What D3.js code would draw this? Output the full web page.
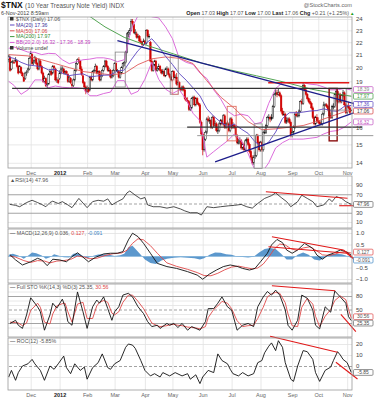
<!DOCTYPE html>
<html><head><meta charset="utf-8">
<script src="https://cdn.jsdelivr.net/npm/d3@7"></script>
<style>body{margin:0;background:#fff}svg{display:block;font-family:"Liberation Sans",Arial,sans-serif}</style>
</head><body><svg id="c" width="374" height="400"></svg>
<script>
// ---------- DATA ----------
const monthLabels=["Dec","2012","Feb","Mar","Apr","May","Jun","Jul","Aug","Sep","Oct","Nov"];
const monthIdx=[16,37,57,77,99,119,141,162,183,206,225,246];
const priceTicks=[14,15,16,17,18,19,20,21,22,23,24];
const priceTickLabels=[14,15,16,19,20,21,22,23,24];
const opens=[20.6,20.8,19.9,20.4,20.4,20.5,20.5,20.1,19.7,20.0,19.6,19.3,19.2,19.6,19.7,19.9,20.8,21.0,20.3,20.5,20.7,20.3,19.9,20.5,20.1,19.6,19.0,19.2,18.7,18.8,19.5,19.7,19.6,20.1,19.9,19.1,19.1,19.2,19.6,19.9,19.9,19.6,19.7,19.5,19.0,19.2,18.8,18.7,19.1,19.8,20.3,20.6,20.5,19.9,19.4,18.9,18.6,18.3,18.5,18.4,19.3,19.1,19.7,19.8,20.1,19.6,19.7,19.1,19.4,19.8,20.1,20.5,20.1,19.8,19.8,19.3,19.4,19.8,20.3,19.8,19.7,19.3,19.6,20.0,20.3,20.4,21.2,22.7,22.8,23.0,23.8,23.5,22.8,22.7,22.4,22.5,22.1,22.0,21.8,22.1,21.9,23.0,22.5,22.0,20.5,19.8,20.2,20.5,19.8,19.9,20.1,19.8,19.6,19.7,19.4,19.9,19.9,19.5,19.3,19.1,19.7,19.3,19.3,18.8,18.9,18.5,18.4,18.6,18.4,17.8,17.7,17.6,17.1,17.2,17.8,17.9,17.4,17.8,17.5,17.4,16.3,15.6,14.7,15.3,15.7,16.5,16.4,16.4,16.0,16.6,16.1,16.2,15.8,15.8,16.2,16.4,16.2,16.7,16.0,16.2,16.2,15.8,16.5,16.0,16.1,16.0,15.5,15.1,15.1,15.2,14.8,15.0,14.7,15.2,15.3,15.0,14.6,14.3,14.0,14.3,14.4,15.5,15.1,14.7,15.1,14.7,15.7,15.7,16.1,16.6,16.6,16.5,16.6,17.3,18.1,18.2,18.1,18.2,18.0,17.0,16.8,16.8,16.3,16.4,16.5,16.3,15.5,15.7,16.0,16.8,16.7,16.7,17.0,17.6,17.5,18.7,18.4,18.1,17.8,17.6,17.5,17.2,16.6,16.2,16.6,16.4,16.3,16.2,16.2,16.8,17.4,17.4,17.3,17.1,16.7,16.6,17.3,17.3,18.1,18.3,17.6,18.1,17.6,18.0,18.2,17.4,16.9,17.3,17.2,17.03];
const highs=[21.0,20.9,20.5,20.6,20.6,20.8,20.6,20.2,20.2,20.1,19.7,19.4,19.7,19.8,20.0,20.8,21.3,21.1,20.6,20.9,20.8,20.4,20.7,20.6,20.2,19.7,19.4,19.3,18.9,19.6,19.9,19.8,20.2,20.2,20.0,19.3,19.2,19.8,20.1,20.1,20.0,19.8,19.8,19.6,19.4,19.3,18.9,19.2,19.9,20.4,20.7,20.8,20.6,20.1,19.5,19.0,18.7,18.7,18.6,19.4,19.4,19.8,19.9,20.3,20.2,19.8,19.8,19.5,19.9,20.2,20.6,20.6,20.2,20.0,19.9,19.5,19.9,20.4,20.4,19.9,19.8,19.7,20.1,20.4,20.5,21.3,22.8,23.0,23.2,24.0,24.0,23.6,23.1,22.9,22.7,22.6,22.3,22.1,22.3,22.2,23.1,23.1,22.7,22.1,20.7,20.3,20.6,20.6,20.1,20.3,20.2,19.9,19.9,19.8,20.0,20.1,20.0,19.6,19.4,19.8,19.8,19.5,19.6,19.1,19.0,18.6,18.7,18.7,18.5,17.9,17.9,17.7,17.4,17.9,18.0,18.0,17.9,17.9,17.6,17.5,16.4,15.7,15.4,15.8,16.6,16.7,16.6,16.5,16.7,16.7,16.4,16.3,16.0,16.3,16.5,16.5,16.8,16.8,16.3,16.4,16.3,16.6,16.6,16.3,16.2,16.1,15.6,15.3,15.4,15.3,15.1,15.1,15.3,15.4,15.4,15.1,14.7,14.4,14.4,14.6,15.6,15.6,15.2,15.2,15.2,15.8,15.9,16.2,16.7,16.8,16.7,16.8,17.4,18.2,18.5,18.4,18.5,18.3,18.1,17.2,17.0,16.9,16.6,16.6,16.6,16.4,15.8,16.1,16.9,17.0,16.9,17.1,17.7,17.8,18.9,18.8,18.5,18.2,17.9,17.8,17.6,17.3,16.7,16.7,16.8,16.6,16.4,16.4,16.9,17.6,17.5,17.5,17.4,17.2,16.9,17.4,17.5,18.2,18.5,18.4,18.2,18.2,18.1,18.4,18.3,17.5,17.4,17.6,17.3,17.07];
const lows=[20.4,19.7,19.8,20.3,20.3,20.4,20.0,19.5,19.6,19.5,19.3,19.0,19.1,19.4,19.6,19.8,20.7,20.2,20.2,20.4,20.2,19.8,19.8,20.0,19.5,18.9,18.9,18.6,18.5,18.8,19.4,19.4,19.5,19.9,19.0,18.9,18.8,19.1,19.5,19.7,19.5,19.5,19.5,18.9,18.9,18.8,18.5,18.6,19.0,19.7,20.2,20.3,19.8,19.4,18.8,18.5,18.1,18.2,18.2,18.3,19.0,19.0,19.6,19.7,19.5,19.5,19.0,19.0,19.3,19.7,20.0,20.0,19.7,19.7,19.2,19.2,19.3,19.7,19.7,19.6,19.2,19.2,19.5,19.9,20.1,20.3,21.1,22.4,22.6,22.9,23.4,22.7,22.6,22.3,22.3,22.0,21.9,21.7,21.7,21.8,21.8,22.4,22.3,20.4,19.7,19.7,20.1,19.7,19.7,19.8,19.7,19.5,19.5,19.3,19.3,19.8,19.4,19.2,19.0,19.0,19.2,19.2,18.7,18.7,18.4,18.3,18.3,18.3,17.7,17.6,17.5,17.0,17.0,17.1,17.7,17.3,17.3,17.4,17.3,16.2,15.5,14.4,14.6,15.2,15.6,16.3,16.2,15.9,15.9,16.0,16.0,15.7,15.6,15.7,16.1,16.1,16.1,15.9,15.9,16.1,15.7,15.7,15.9,15.9,15.9,15.4,15.0,15.0,15.0,14.7,14.7,14.6,14.6,15.1,14.9,14.5,14.2,13.9,13.9,14.2,14.3,15.0,14.6,14.6,14.6,14.6,15.6,15.6,16.0,16.4,16.3,16.4,16.5,17.2,18.0,17.9,18.0,17.9,16.9,16.7,16.7,16.2,16.2,16.3,16.2,15.4,15.4,15.6,15.9,16.6,16.6,16.6,16.9,17.4,17.4,18.3,18.0,17.7,17.5,17.4,17.1,16.5,16.1,16.1,16.3,16.2,16.1,16.1,16.1,16.7,17.3,17.2,17.0,16.6,16.5,16.5,17.1,17.2,18.0,17.5,17.5,17.5,17.5,17.9,17.3,16.8,16.8,17.1,16.8,17.00];
const closes=[20.9,19.8,20.4,20.5,20.4,20.6,20.1,19.6,20.1,19.6,19.4,19.0,19.6,19.6,19.9,20.7,21.1,20.3,20.4,20.8,20.3,19.9,20.6,20.1,19.6,19.0,19.2,18.7,18.8,19.5,19.7,19.5,20.1,20.0,19.1,19.1,18.9,19.6,19.9,19.9,19.6,19.7,19.6,19.0,19.3,18.9,18.7,19.1,19.8,20.3,20.6,20.5,19.9,19.5,18.9,18.6,18.3,18.5,18.3,19.3,19.1,19.7,19.8,20.1,19.6,19.7,19.1,19.4,19.8,20.1,20.5,20.1,19.8,19.8,19.3,19.4,19.8,20.3,19.8,19.8,19.3,19.6,20.0,20.3,20.4,21.2,22.7,22.8,23.0,23.8,23.6,22.8,22.8,22.4,22.5,22.1,22.0,21.8,22.1,21.9,23.0,22.5,22.5,20.5,19.8,20.2,20.5,19.8,19.9,20.1,19.8,19.6,19.7,19.4,19.9,19.9,19.5,19.3,19.1,19.7,19.3,19.3,18.8,18.9,18.5,18.4,18.6,18.4,17.8,17.7,17.6,17.1,17.2,17.8,17.9,17.4,17.8,17.5,17.4,16.3,15.6,14.7,15.3,15.7,16.5,16.4,16.4,16.0,16.6,16.1,16.2,15.8,15.8,16.2,16.4,16.2,16.7,16.0,16.2,16.2,15.8,16.5,16.0,16.1,16.0,15.5,15.1,15.1,15.2,14.8,15.0,14.7,15.2,15.3,15.0,14.6,14.3,14.0,14.3,14.4,15.5,15.1,14.7,15.1,14.7,15.7,15.7,16.1,16.6,16.6,16.5,16.6,17.3,18.1,18.2,18.1,18.2,18.0,17.0,16.8,16.8,16.3,16.4,16.5,16.3,15.5,15.7,16.0,16.8,16.7,16.7,17.0,17.6,17.5,18.7,18.4,18.1,17.8,17.6,17.5,17.2,16.6,16.2,16.6,16.4,16.3,16.2,16.2,16.8,17.4,17.4,17.3,17.1,16.7,16.6,17.3,17.3,18.1,18.3,17.6,18.1,17.6,18.0,18.2,17.4,16.9,17.3,17.2,16.9,17.06];
// overlays: [dayIndex, value]
const ma20=[[0,20.8],[4,20.7],[9,20.4],[14,20.2],[19,20.14],[24,20.07],[29,19.83],[34,19.87],[39,19.58],[44,19.41],[49,19.49],[54,19.54],[59,19.32],[64,19.38],[69,19.44],[74,19.45],[79,19.75],[84,19.82],[89,20.59],[94,21.32],[99,21.86],[104,22.29],[109,21.64],[114,20.86],[119,20.24],[124,19.56],[129,19.08],[134,18.54],[139,17.99],[144,17.14],[149,16.67],[154,16.31],[159,16.05],[164,16.18],[169,15.89],[174,15.63],[179,15.15],[184,14.88],[189,15.13],[194,15.71],[199,16.53],[204,16.89],[209,16.89],[214,16.93],[219,17.0],[224,17.03],[229,17.14],[234,17.02],[239,16.98],[244,17.3],[249,17.36]];
const ma50=[[0,21.0],[14,20.9],[24,20.6],[34,20.3],[44,20.0],[54,19.71],[64,19.59],[74,19.47],[84,19.57],[94,20.23],[104,20.67],[114,20.82],[124,20.71],[134,20.31],[144,19.04],[154,17.92],[164,17.17],[174,16.34],[184,15.85],[194,15.9],[204,16.0],[214,16.1],[224,16.35],[234,16.65],[244,16.95],[249,17.06]];
const ma200=[[50,24.9],[57,24.4],[70,23.3],[84,22.4],[100,21.75],[120,21.05],[140,20.35],[160,19.85],[180,19.4],[200,18.95],[220,18.45],[240,18.1],[249,17.97]];
const bbUpper=[[0,21.5],[4,21.6],[9,21.4],[14,21.2],[19,21.18],[24,21.0],[29,21.1],[34,21.07],[39,20.6],[44,20.3],[49,20.45],[54,20.6],[59,20.65],[64,20.75],[69,20.75],[74,20.65],[79,20.45],[84,20.6],[89,23.1],[94,24.3],[99,24.6],[104,24.2],[109,24.1],[114,23.3],[119,22.3],[124,20.7],[129,20.4],[134,20.25],[139,19.6],[144,19.2],[149,18.4],[154,17.8],[159,17.0],[164,16.7],[169,16.8],[174,16.7],[179,16.2],[184,16.3],[189,17.5],[194,18.5],[199,18.9],[204,18.9],[209,18.9],[214,18.9],[219,18.8],[224,18.75],[229,18.6],[234,18.4],[239,18.4],[244,18.5],[249,18.39]];
const bbLower=[[0,19.0],[4,18.7],[9,18.1],[14,18.4],[19,19.1],[24,19.1],[29,18.55],[34,18.67],[39,18.58],[44,18.55],[49,18.55],[54,18.5],[59,18.0],[64,18.0],[69,18.15],[74,18.25],[79,19.05],[84,19.05],[89,18.1],[94,18.3],[99,19.15],[104,20.4],[109,19.15],[114,18.45],[119,18.15],[124,18.4],[129,17.75],[134,16.85],[139,16.4],[144,14.3],[149,14.6],[154,14.9],[159,15.2],[164,15.6],[169,15.2],[174,14.5],[179,13.6],[184,13.5],[189,14.0],[194,14.8],[199,15.1],[204,15.3],[209,15.3],[214,15.3],[219,15.35],[224,15.4],[229,15.6],[234,15.75],[239,15.8],[244,16.0],[249,16.32]];
// indicators: [dayIndex, value]
const rsi=[[1,48],[5,46],[8,43],[13,52],[17,57],[21,52],[24,48],[27,43],[30,52],[32,55],[36,50],[39,54],[43,47],[46,41],[51,61],[54,51],[57,41],[61,54],[65,57],[69,55],[72,60],[75,47],[79,54],[83,60],[86,73],[88,77],[92,68],[96,60],[99,63],[101,47],[105,43],[110,43],[115,40],[120,43],[125,38],[128,34],[132,30],[137,30],[140,25],[144,43],[149,41],[154,43],[160,45],[164,46],[169,48],[173,43],[177,40],[181,50],[186,61],[191,67],[194,73],[198,63],[202,54],[205,43],[210,54],[213,68],[217,61],[221,54],[224,43],[229,47],[233,60],[235,54],[238,65],[242,61],[245,54],[249,47.96]];
const macd=[[1,0.05],[5,-0.17],[10,-0.39],[16,-0.25],[21,-0.1],[24,-0.17],[28,-0.42],[32,-0.14],[37,-0.17],[42,-0.25],[46,-0.03],[50,0.14],[53,0.0],[58,-0.25],[63,-0.06],[69,0.09],[74,0.12],[79,0.12],[83,0.19],[87,0.7],[90,0.99],[94,0.84],[98,0.55],[103,0.12],[108,-0.32],[115,-0.46],[122,-0.54],[130,-0.68],[137,-0.83],[141,-1.01],[146,-0.78],[151,-0.61],[156,-0.46],[161,-0.39],[166,-0.45],[170,-0.54],[175,-0.61],[179,-0.54],[183,-0.25],[188,0.12],[191,0.48],[195,0.72],[199,0.58],[202,0.26],[206,0.12],[210,0.26],[215,0.55],[221,0.33],[224,0.04],[228,-0.14],[232,0.04],[236,0.12],[241,0.26],[245,0.19],[249,0.036]];
const macdSignal=[[1,0.0],[5,-0.05],[11,-0.2],[16,-0.28],[21,-0.2],[26,-0.22],[30,-0.3],[35,-0.22],[40,-0.2],[45,-0.15],[50,0.0],[55,-0.05],[59,-0.12],[64,-0.1],[70,0.02],[76,0.1],[82,0.13],[86,0.25],[90,0.55],[94,0.75],[98,0.7],[103,0.45],[108,0.12],[115,-0.3],[122,-0.45],[130,-0.58],[137,-0.72],[142,-0.85],[147,-0.86],[152,-0.75],[157,-0.6],[162,-0.48],[167,-0.44],[172,-0.5],[177,-0.56],[181,-0.52],[185,-0.35],[189,-0.05],[193,0.3],[197,0.52],[201,0.48],[205,0.32],[209,0.25],[214,0.35],[219,0.4],[224,0.22],[228,0.05],[233,0.02],[237,0.08],[241,0.16],[245,0.18],[249,0.127]];
const macdHist=[[0,0.05],[3,0.1],[7,0.02],[11,-0.12],[15,0.05],[17,0.15],[20,0.12],[24,0.02],[27,-0.12],[30,-0.05],[33,0.08],[36,0.02],[40,-0.05],[44,-0.06],[47,0.1],[50,0.12],[54,0.0],[57,-0.1],[61,0.0],[65,0.06],[69,0.08],[73,0.05],[77,0.0],[81,0.03],[84,0.1],[87,0.38],[90,0.45],[93,0.25],[96,0.05],[99,-0.15],[103,-0.3],[107,-0.35],[111,-0.2],[115,-0.12],[120,-0.08],[125,-0.05],[130,-0.08],[135,-0.1],[139,-0.15],[142,-0.1],[146,0.05],[150,0.15],[154,0.14],[158,0.08],[162,0.05],[166,-0.02],[170,-0.04],[174,-0.06],[178,-0.03],[182,0.15],[186,0.3],[190,0.35],[194,0.3],[198,0.1],[202,-0.15],[206,-0.15],[210,0.05],[214,0.15],[218,0.05],[222,-0.15],[226,-0.2],[230,-0.05],[234,0.08],[238,0.1],[242,0.08],[245,0.02],[249,-0.09]];
const stoK=[[1,19],[5,26],[7,15],[10,8],[13,38],[16,76],[21,56],[23,45],[26,4],[30,38],[32,64],[35,53],[39,73],[41,56],[43,23],[46,15],[50,89],[54,45],[57,8],[61,56],[64,71],[66,64],[69,78],[72,52],[75,26],[77,45],[80,56],[83,82],[87,86],[90,78],[94,56],[98,41],[101,23],[104,12],[108,15],[110,8],[115,19],[117,15],[120,19],[123,10],[126,19],[130,4],[133,12],[136,8],[139,4],[143,23],[145,52],[149,52],[152,64],[155,78],[159,56],[162,49],[166,4],[170,15],[174,19],[178,12],[181,56],[185,78],[188,90],[191,82],[194,93],[197,82],[201,49],[203,15],[206,4],[210,26],[213,82],[217,75],[221,49],[223,15],[226,7],[230,56],[234,44],[237,91],[241,78],[245,64],[247,34],[249,25.35]];
const stoD=[[1,22],[5,21],[7,20],[10,14],[13,20],[16,48],[21,64],[23,55],[26,22],[30,18],[32,40],[35,58],[39,63],[41,64],[43,45],[46,22],[50,62],[54,66],[57,30],[61,30],[64,58],[66,66],[69,70],[72,66],[75,42],[77,38],[80,45],[83,66],[87,82],[90,82],[94,68],[98,52],[101,36],[104,20],[108,14],[110,12],[115,14],[117,16],[120,17],[123,15],[126,14],[130,11],[133,10],[136,9],[139,7],[143,12],[145,32],[149,50],[152,58],[155,68],[159,64],[162,52],[166,25],[170,12],[174,14],[178,15],[181,30],[185,55],[188,78],[191,85],[194,88],[197,86],[201,65],[203,40],[206,14],[210,12],[213,55],[217,75],[221,62],[223,35],[226,12],[230,35],[234,50],[237,70],[241,80],[245,72],[247,50],[249,30.56]];
const roc=[[0,-10],[2,-4],[5,-13],[7,-6],[10,0],[14,2],[17,6],[19,2],[23,-4],[26,-13],[30,0],[33,-3],[36,2],[40,9],[42,-1.5],[45,-7],[48,2],[52,-4],[55,-1],[57,-12],[61,-1.5],[65,3],[68,11],[72,-1.5],[74,-3],[77,2],[81,5],[85,17],[87,20],[90,19],[92,16],[96,5],[99,-4],[103,-9],[106,-7],[110,-10],[112,-6],[117,-9],[121,-6],[126,-9],[130,-7],[132,-12],[136,-8],[139,-16],[141,-10],[145,-4],[149,-6],[152,11],[155,5],[159,2],[161,-3],[163,-7],[167,-9],[170,-6],[174,-9],[178,-7],[181,3],[184,5],[186,12],[189,18],[191,21],[194,14],[196,23],[199,17],[201,3],[205,-12],[207,-14],[210,0],[214,14],[217,13],[221,6],[223,-6],[226,-14],[230,-4],[234,-1],[236,5],[239,13],[241,10],[243,6],[246,3],[249,-5.85]];
// chartist annotations (dayIndex, value)
const priceTrend=[[[79,22.14],[260,17.26]],[[150,14.05],[260,17.17]]];
const priceLevels=[[18.5,2.5,249.5,"#333",1.2],[18.9,188.6,247.5,"#e01818",1.5],[16.0,129.7,257,"#333",1.2],[15.5,137,265,"#999",1]];
const priceBoxes=[[77.4,84.7,21.2,18.6,"#888",0.8],[117.4,123.2,20.9,18.1,"#888",0.8],[118.8,123.2,19.1,18.1,"#e07878",0.8],[158.8,165.3,17.3,15.2,"#e07060",0.9],[178.4,184.2,16.2,13.7,"#888",0.8],[232.9,245.3,18.5,17.06,"#888",0.8],[232.9,238.7,18.5,15.2,"#8b1010",1.4]];
const rsiTrend=[[[186.9,75.5],[246.2,61.2]],[[240.2,45.2],[252.5,45.2]]];
const macdTrend=[[[191.3,0.84],[243.3,0.26]],[[188.8,0.40],[245.8,0.12]],[[243.3,0.26],[253,-0.25]],[[245.8,0.12],[253,-0.2]]];
const stoTrend=[[[191.3,102.9],[237.3,91.8]],[[241.4,39.3],[252.3,0.7]]];
const rocTrend=[[[190,27],[238.9,12.5]],[[237.8,3.4],[253.5,-11.8]]];

// ---------- LAYOUT ----------
const svg=d3.select("#c");
const X0=8,X1=352;
const x=d3.scaleLinear().domain([-0.5,249.5]).range([X0,X1]);
const P={main:[17,168],rsi:[176,228],macd:[229,283],sto:[284,337],roc:[338,390]};
const yP=d3.scaleLog().domain([13.73,24.18]).range([168,17]);
const yR=d3.scaleLinear().domain([0,100]).range([226.6,180.4]);
const yM=d3.scaleLinear().domain([-1,1]).range([279,233]);
const yS=d3.scaleLinear().domain([0,100]).range([332,287]);
const yC=d3.scaleLinear().domain([-10,20]).range([377,344]);
const defs=svg.append("defs");
Object.entries(P).forEach(([k,[t,b]])=>{
  defs.append("clipPath").attr("id","cl_"+k).append("rect").attr("x",X0).attr("y",t).attr("width",X1-X0).attr("height",b-t);
});
svg.append("rect").attr("width",374).attr("height",400).attr("fill","#fff");

function grid(key,y,vals){
  const [t,b]=P[key];
  const gv=svg.append("g").attr("transform",`translate(0,${b})`)
    .call(d3.axisBottom(x).tickValues(monthIdx).tickSize(-(b-t)).tickFormat(""));
  gv.select(".domain").remove();
  gv.selectAll("line").attr("stroke","#e2e2e2").attr("stroke-width",0.8);
  if(vals){
    const gh=svg.append("g").attr("transform",`translate(${X1},0)`)
      .call(d3.axisRight(y).tickValues(vals).tickSize(-(X1-X0)).tickFormat(""));
    gh.select(".domain").remove();
    gh.selectAll("line").attr("stroke","#e2e2e2").attr("stroke-width",0.8);
  }
}
function refLines(key,y,vals,color,dash){
  const g=svg.append("g").attr("transform",`translate(${X1},0)`)
    .call(d3.axisRight(y).tickValues(vals).tickSize(-(X1-X0)).tickFormat(""));
  g.select(".domain").remove();
  g.selectAll("line").attr("stroke",color).attr("stroke-width",0.9).attr("stroke-dasharray",dash||null);
}
function labels(y,vals,fmt){
  const g=svg.append("g").attr("transform",`translate(${X1},0)`)
    .call(d3.axisRight(y).tickValues(vals).tickSize(0).tickPadding(4).tickFormat(fmt));
  g.select(".domain").remove();
  g.selectAll("text").attr("font-size",6).attr("fill","#444").attr("font-family",'"Liberation Sans",Arial,sans-serif');
}
function frame(key){
  const [t,b]=P[key];
  svg.append("rect").attr("x",X0).attr("y",t).attr("width",X1-X0).attr("height",b-t)
    .attr("fill","none").attr("stroke","#9a9a9a").attr("stroke-width",0.8);
}
function months(yy){
  const g=svg.append("g").attr("transform",`translate(0,${yy})`)
    .call(d3.axisBottom(x).tickValues(monthIdx).tickSize(0).tickPadding(3).tickFormat((d,k)=>monthLabels[k]));
  g.select(".domain").remove();
  g.selectAll("text").attr("font-size",5.5)
    .attr("font-weight",(d,k)=>monthLabels[k]==="2012"?"bold":null)
    .attr("fill",(d,k)=>monthLabels[k]==="2012"?"#222":"#666");
}
function series(key,y,data,color,w){
  svg.append("path").attr("clip-path",`url(#cl_${key})`).datum(data)
    .attr("d",d3.line().x(d=>x(d[0])).y(d=>y(d[1])))
    .attr("fill","none").attr("stroke",color).attr("stroke-width",w||0.9).attr("stroke-linejoin","round");
}
function trend(y,segs,color,w){
  segs.forEach(s=>svg.append("path").datum(s)
    .attr("d",d3.line().x(d=>x(d[0])).y(d=>y(d[1])))
    .attr("stroke",color).attr("stroke-width",w).attr("fill","none"));
}
function vbox(yy,txt,color,txtColor){
  svg.append("rect").attr("x",353.5).attr("y",yy-2.9).attr("width",19.5).attr("height",5.8)
    .attr("fill","#fff").attr("stroke",color).attr("stroke-width",0.7).attr("rx",1);
  svg.append("text").attr("x",363.2).attr("y",yy+1.7).attr("text-anchor","middle")
    .attr("font-size",4.9).attr("fill",txtColor||color).text(txt);
}
function txt(xx,yy,parts,size){
  const t=svg.append("text").attr("x",xx).attr("y",yy).attr("font-size",size||5.5);
  parts.forEach(p=>t.append("tspan").text(p[0]).attr("fill",p[1]||"#444").attr("font-weight",p[2]||null));
  return t;
}

// ---------- HEADER ----------
txt(1,8,[["$TNX ","#111","bold"]],8.5).append("tspan").text("(10 Year Treasury Note Yield) INDX").attr("font-size",6.3).attr("fill","#555").attr("font-weight","normal");
svg.append("text").attr("x",352).attr("y",7).attr("text-anchor","end").attr("font-size",5.6).attr("fill","#666").text("@StockCharts.com");
txt(1,15,[["6-Nov-2012 8:59am","#444"]],5.4);
const hdr=svg.append("text").attr("x",349).attr("y",15).attr("text-anchor","end").attr("font-size",5.4);
[["Open ","#222","bold"],["17.03  ","#555"],["High ","#222","bold"],["17.07  ","#555"],["Low ","#222","bold"],["17.00  ","#555"],["Last ","#222","bold"],["17.06  ","#555"],["Chg ","#222","bold"],["+0.21 (+1.25%)","#555"]]
  .forEach(p=>hdr.append("tspan").text(p[0]).attr("fill",p[1]).attr("font-weight",p[2]||null));
svg.append("text").attr("x",350).attr("y",15).attr("font-size",4.5).attr("fill","#1a9a1a").text("▲");

// ---------- MAIN PANEL ----------
grid("main",yP,priceTicks);
const gC=svg.append("g").attr("clip-path","url(#cl_main)");
const idx=d3.range(closes.length);
const col=i=>closes[i]<(i>0?closes[i-1]:opens[i])?"#d00000":"#111";
gC.selectAll("line.w").data(idx).join("line").attr("class","w")
  .attr("x1",i=>x(i)).attr("x2",i=>x(i)).attr("y1",i=>yP(highs[i])).attr("y2",i=>yP(lows[i]))
  .attr("stroke",col).attr("stroke-width",0.7);
const cw=1.5;
gC.selectAll("rect.b").data(idx).join("rect").attr("class","b")
  .attr("x",i=>x(i)-cw/2).attr("width",cw)
  .attr("y",i=>yP(Math.max(opens[i],closes[i])))
  .attr("height",i=>Math.max(0.7,yP(Math.min(opens[i],closes[i]))-yP(Math.max(opens[i],closes[i]))))
  .attr("fill",i=>closes[i]<opens[i]?col(i):"#fff").attr("stroke",col).attr("stroke-width",0.5);
series("main",yP,bbUpper,"#d75cd7",0.9);
series("main",yP,bbLower,"#d75cd7",0.9);
series("main",yP,ma200,"#3f9a3f",0.9);
series("main",yP,ma50,"#e05a5a",0.9);
series("main",yP,ma20,"#5a45c0",0.9);
priceBoxes.forEach(b=>svg.append("rect").attr("x",x(b[0])).attr("y",yP(b[2])).attr("width",x(b[1])-x(b[0]))
  .attr("height",yP(b[3])-yP(b[2])).attr("fill","none").attr("stroke",b[4]).attr("stroke-width",b[5]));
priceLevels.forEach(l=>svg.append("line").attr("x1",x(l[1])).attr("x2",x(l[2])).attr("y1",yP(l[0])).attr("y2",yP(l[0]))
  .attr("stroke",l[3]).attr("stroke-width",l[4]));
trend(yP,priceTrend,"#1c1c8a",1.3);
frame("main");
labels(yP,priceTickLabels,d3.format("d"));
const lg=[["$TNX (Daily) 17.06","#555"],["MA(20) 17.36","#3b2f9a"],["MA(50) 17.06","#d43c3c"],["MA(200) 17.97","#2f8a2f"],["BB(20,2.0) 16.32 - 17.36 - 18.39","#c040c0"],["Volume undef","#444"]];
const lgc=["#333","#5a45c0","#e05a5a","#3f9a3f","#d75cd7","#333"];
lg.forEach((l,k)=>{
  const yy=21+k*5.8;
  if(k===0||k===5){svg.append("rect").attr("x",10).attr("y",yy-4).attr("width",3.5).attr("height",3.5).attr("fill","#333");}
  else svg.append("line").attr("x1",10).attr("x2",14.5).attr("y1",yy-1.8).attr("y2",yy-1.8).attr("stroke",lgc[k]).attr("stroke-width",1);
  txt(16,yy,[[l[0],l[1]]],5.2);
});
vbox(yP(16.32),"16.32","#c050c0");
vbox(yP(17.06)+1,"17.06","#d43c3c","#333");
vbox(yP(17.36)-1,"17.36","#5a45c0");
vbox(yP(17.97),"17.97","#3f9a3f");
vbox(yP(18.39)-0.5,"18.39","#c050c0","#888");
months(168);

// ---------- RSI ----------
grid("rsi",yR,[10,90]);
refLines("rsi",yR,[30,70],"#999");
refLines("rsi",yR,[50],"#999","3,2");
series("rsi",yR,rsi,"#222",0.8);
trend(yR,rsiTrend,"#e01818",1.1);
frame("rsi");
labels(yR,[10,30,70,90],d3.format("d"));
txt(10,182,[["▲","#555"],["RSI(14) 47.96","#555"]],5.3);
vbox(yR(47.96),"47.96","#666","#444");

// ---------- MACD ----------
grid("macd",yM,[-1,-0.5,0.5,1]);
svg.append("path").attr("clip-path","url(#cl_macd)").datum(macdHist)
  .attr("d",d3.area().x(d=>x(d[0])).y0(yM(0)).y1(d=>yM(d[1])))
  .attr("fill","#3f86c4").attr("opacity",0.85);
refLines("macd",yM,[0],"#8ab8dc");
series("macd",yM,macdSignal,"#e04848",0.9);
series("macd",yM,macd,"#111",0.9);
trend(yM,macdTrend,"#e01818",1.1);
frame("macd");
labels(yM,[-1,-0.5,0.5,1],d3.format(".1f"));
txt(10,235,[["— ","#111"],["MACD(12,26,9) 0.036, ","#555"],["0.127","#e04848"],[", ","#555"],["-0.091","#3f86c4"]],5.3);
vbox(yM(0.127)-1,"0.127","#e04848","#555");
vbox(yM(-0.091)+2,"-0.091","#3f86c4","#555");

// ---------- FULL STO ----------
grid("sto",yS,[10,30,40,60,70,90]);
refLines("sto",yS,[20,80],"#999");
refLines("sto",yS,[50],"#999","3,2");
series("sto",yS,stoD,"#e04848",0.9);
series("sto",yS,stoK,"#111",0.9);
trend(yS,stoTrend,"#e01818",1.1);
frame("sto");
labels(yS,[50,80],d3.format("d"));
txt(10,289,[["— ","#111"],["Full STO %K(14,3) %D(3) 25.35, ","#555"],["30.56","#e04848"]],5.3);
vbox(yS(30.56)-1.5,"30.56","#e04848","#555");
vbox(yS(25.35)+2.5,"25.35","#666","#444");

// ---------- ROC ----------
grid("roc",yC,[-10,10,20]);
refLines("roc",yC,[0],"#999","3,2");
series("roc",yC,roc,"#111",0.9);
trend(yC,rocTrend,"#e01818",1.1);
frame("roc");
labels(yC,[0,10,20],d3.format("d"));
txt(10,343,[["— ","#111"],["ROC(12) -5.85%","#555"]],5.3);
vbox(yC(-5.85),"-5.85","#666","#444");
months(390);
</script></body></html>
